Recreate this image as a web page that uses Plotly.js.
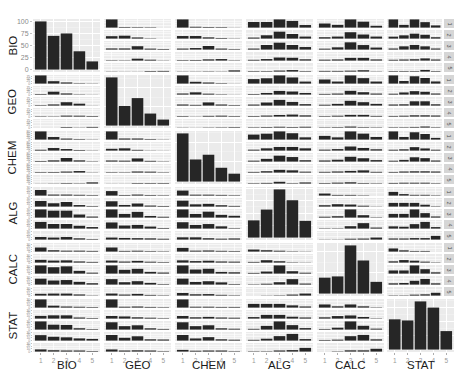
<!DOCTYPE html>
<html><head><meta charset="utf-8">
<script src="https://cdn.plot.ly/plotly-3.0.1.min.js"></script>
<style>html,body{margin:0;padding:0;background:#fff;}#chart{width:474px;height:377px;}</style>
</head><body><div id="chart"></div>
<script>
// ---------- data ----------
const variables = ['BIO', 'GEO', 'CHEM', 'ALG', 'CALC', 'STAT'];
const levels = [1, 2, 3, 4, 5];
const tickLabels = ['1', '2', '3', '4', '5'];

// diagonal: counts per level
const histBIO  = [100, 70, 75, 38, 17];
const histGEO  = [128, 52, 73, 32, 16];
const histCHEM = [122, 56, 68, 35, 20];
const histALG  = [35, 57, 98, 76, 34];
const histCALC = [38, 41, 115, 79, 28];
const histSTAT = [54, 52, 86, 75, 33];

// cross tables: row = level of first variable, column = level of second variable
const tabBIO_GEO   = [[85,6,5,4,0],[25,30,12,3,0],[12,12,35,10,6],[4,3,20,9,2],[2,1,1,6,7]];
const tabBIO_CHEM  = [[80,8,6,5,1],[25,25,12,6,2],[10,15,35,10,5],[5,6,12,15,3],[2,2,3,2,12]];
const tabBIO_ALG   = [[22,22,32,26,10],[4,13,27,18,8],[4,18,27,18,10],[3,6,12,11,5],[2,2,4,6,2]];
const tabBIO_CALC  = [[18,12,36,26,8],[6,9,28,18,9],[4,10,32,20,9],[4,5,12,12,5],[3,3,4,6,1]];
const tabBIO_STAT  = [[30,10,30,20,8],[7,12,18,14,5],[4,12,17,12,4],[3,4,5,8,4],[2,2,2,6,2]];
const tabGEO_CHEM  = [[90,20,12,5,1],[12,25,10,4,1],[12,8,35,12,6],[6,2,8,10,6],[2,1,3,4,6]];
const tabGEO_ALG   = [[22,26,40,30,10],[3,8,18,15,8],[5,15,28,18,7],[3,5,8,10,6],[2,3,4,3,4]];
const tabGEO_CALC  = [[24,12,48,32,12],[4,6,22,14,6],[5,10,28,20,10],[3,5,10,10,4],[2,3,6,3,2]];
const tabGEO_STAT  = [[38,12,34,26,10],[4,10,16,13,5],[5,6,20,20,6],[3,4,6,6,5],[2,2,3,5,2]];
const tabCHEM_ALG  = [[22,26,36,28,10],[4,10,16,16,10],[4,12,26,20,6],[3,6,12,10,4],[2,3,8,2,5]];
const tabCHEM_CALC = [[20,12,44,32,14],[5,8,22,14,7],[6,10,26,18,8],[4,6,9,12,4],[3,5,7,3,2]];
const tabCHEM_STAT = [[38,12,34,26,8],[4,6,16,10,4],[4,8,20,16,5],[3,5,6,6,5],[3,4,4,4,2]];
const tabALG_CALC  = [[12,4,4,2,0],[8,14,12,5,1],[5,8,48,14,2],[2,2,14,32,6],[1,1,5,6,12]];
const tabALG_STAT  = [[10,4,2,2,1],[10,10,10,5,1],[10,10,22,12,3],[6,5,12,18,4],[3,3,4,4,10]];
const tabCALC_STAT = [[10,4,2,2,0],[4,8,6,3,1],[10,10,26,14,4],[4,5,12,18,4],[1,1,3,4,9]];

// ---------- layout geometry ----------
const W = 474, H = 377;
const colLeft = [33, 104, 175, 246, 317, 387];
const colW = 67, lastFacetW = 55, stripX0 = 444, stripX1 = 454;
const rowTop = [19, 75, 131, 187, 243, 299];
const rowH = 53, facetH = 9, facetGap = 2;

const hists = [histBIO, histGEO, histCHEM, histALG, histCALC, histSTAT];
const tables = {
  '0-1': tabBIO_GEO, '0-2': tabBIO_CHEM, '0-3': tabBIO_ALG, '0-4': tabBIO_CALC, '0-5': tabBIO_STAT,
  '1-2': tabGEO_CHEM, '1-3': tabGEO_ALG, '1-4': tabGEO_CALC, '1-5': tabGEO_STAT,
  '2-3': tabCHEM_ALG, '2-4': tabCHEM_CALC, '2-5': tabCHEM_STAT,
  '3-4': tabALG_CALC, '3-5': tabALG_STAT, '4-5': tabCALC_STAT
};
function cellTable(i, j) {
  if (i < j) return tables[i + '-' + j];
  const t = tables[j + '-' + i];
  return levels.map((_, r) => levels.map((_, x) => t[x][r]));
}
function niceStep(max) {
  const steps = [1, 2, 2.5, 5, 10, 20, 25, 50, 100];
  for (const s of steps) if (max / s <= 4) return s;
  return 100;
}

const data = [];
const layout = {
  width: W, height: H, margin: {l: 0, r: 0, t: 0, b: 0},
  paper_bgcolor: '#ffffff', plot_bgcolor: '#EBEBEB', showlegend: false,
  bargap: 0.1, font: {family: 'Liberation Sans, Arial, sans-serif', color: '#1a1a1a'},
  annotations: [], shapes: []
};
let k = 0;
function addPanel(x0, x1, y0, y1, yvals, ymax, opts) {
  k++;
  const sfx = k === 1 ? '' : String(k);
  const step = opts.step || niceStep(ymax);
  const ticks = [];
  for (let v = 0; v <= ymax * 1.05; v += step) ticks.push(v);
  layout['xaxis' + sfx] = {
    domain: [x0 / W, x1 / W], anchor: 'y' + sfx, range: [0.4, 5.6],
    tickvals: levels, ticktext: tickLabels,
    showticklabels: !!opts.showX, ticks: opts.showX ? 'outside' : '',
    ticklen: 2, tickwidth: 0.8, tickcolor: '#9a9a9a',
    tickfont: {size: 6.5, color: '#9a9a9a'},
    showgrid: true, gridcolor: '#ffffff', gridwidth: opts.diag ? 1 : 0.7,
    zeroline: false, showline: false, fixedrange: true
  };
  layout['yaxis' + sfx] = {
    domain: [1 - y1 / H, 1 - y0 / H], anchor: 'x' + sfx,
    range: [-0.05 * ymax, 1.05 * ymax], tickvals: ticks,
    showticklabels: !!opts.showY, ticks: opts.showY ? 'outside' : '',
    ticklen: opts.diag ? 2 : 1, tickwidth: 0.6, tickcolor: '#9a9a9a',
    tickfont: {size: opts.diag ? 7 : 3.5, color: '#8a8a8a'},
    showgrid: true, gridcolor: '#ffffff', gridwidth: opts.diag ? 1 : 0.5,
    minor: {dtick: step / 2, tick0: 0, showgrid: true, gridcolor: '#F5F5F5', gridwidth: opts.diag ? 0.5 : 0.3},
    zeroline: false, showline: false, fixedrange: true
  };
  data.push({
    type: 'bar', x: levels, y: yvals, xaxis: 'x' + sfx, yaxis: 'y' + sfx,
    marker: {color: '#262626', line: {width: 0}}, hoverinfo: 'skip'
  });
}

for (let i = 0; i < 6; i++) {
  for (let j = 0; j < 6; j++) {
    const x0 = colLeft[j];
    if (i === j) {
      const h = hists[i];
      const mx = Math.max(...h);
      addPanel(x0, x0 + colW, rowTop[i], rowTop[i] + rowH, h, mx,
        {diag: true, showY: j === 0, showX: i === 5, step: i === 0 ? 25 : undefined});
    } else {
      const t = cellTable(i, j);
      const mx = Math.max(...t.map(r => Math.max(...r)));
      const w = j === 5 ? lastFacetW : colW;
      for (let r = 0; r < 5; r++) {
        const fy0 = rowTop[i] + r * (facetH + facetGap);
        addPanel(x0, x0 + w, fy0, fy0 + facetH, t[r], mx,
          {diag: false, showY: j === 0, showX: i === 5 && r === 4});
        if (j === 5) {
          layout.shapes.push({type: 'rect', xref: 'paper', yref: 'paper',
            x0: stripX0 / W, x1: stripX1 / W, y0: 1 - (fy0 + facetH) / H, y1: 1 - fy0 / H,
            fillcolor: '#D6D6D6', line: {width: 0}, layer: 'below'});
          layout.annotations.push({xref: 'paper', yref: 'paper',
            x: (stripX0 + stripX1) / 2 / W, y: 1 - (fy0 + facetH / 2) / H,
            text: tickLabels[r], textangle: 90, showarrow: false,
            font: {size: 5.5, color: '#4d4d4d'}, xanchor: 'center', yanchor: 'middle'});
        }
      }
    }
  }
}

// row and column labels
variables.forEach((v, i) => {
  layout.annotations.push({xref: 'paper', yref: 'paper', x: 12 / W,
    y: 1 - (rowTop[i] + rowH / 2) / H, text: v, textangle: -90, showarrow: false,
    font: {size: 11.5, color: '#1a1a1a'}, xanchor: 'center', yanchor: 'middle'});
  layout.annotations.push({xref: 'paper', yref: 'paper',
    x: (colLeft[i] + colW / 2) / W, y: 1 - 365 / H, text: v, showarrow: false,
    font: {size: 11.5, color: '#1a1a1a'}, xanchor: 'center', yanchor: 'middle'});
});

Plotly.newPlot('chart', data, layout, {staticPlot: true, displayModeBar: false});
</script>
</body></html>
